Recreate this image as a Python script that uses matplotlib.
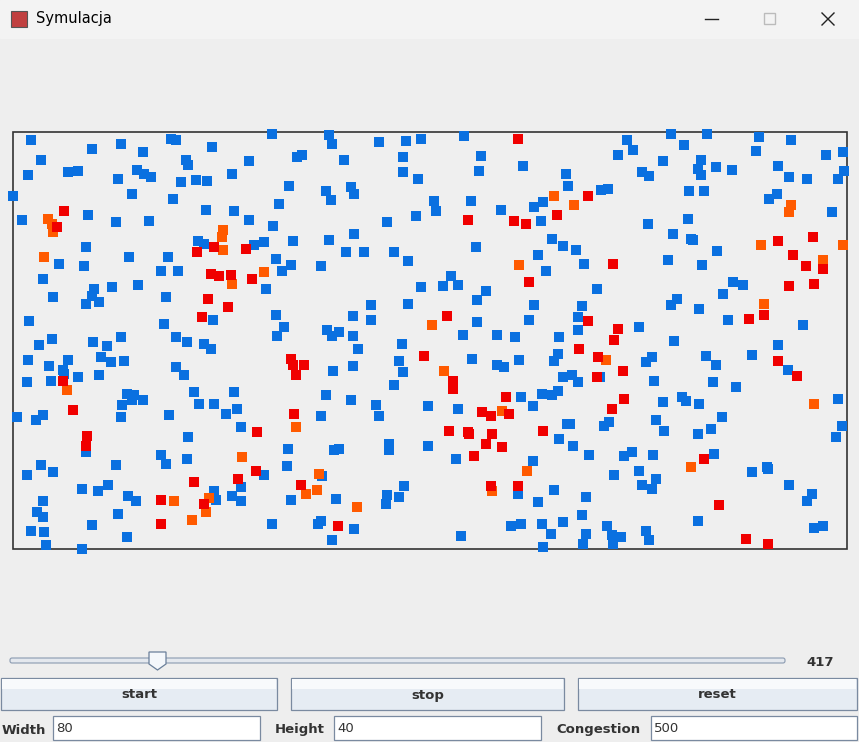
import matplotlib
matplotlib.use("Agg")
import matplotlib.pyplot as plt
from matplotlib.patches import Rectangle, FancyBboxPatch, Polygon

# Agent screen positions (pixels in the simulation panel)
blue_x = [31,272,121,92,171,176,212,143,41,186,188,249,28,68,78,137,144,151,118,181,196,207,232,13,132,173,279,206,234,22,88,116,149,249,273,198,204,254,264,86,129,168,59,84,161,178,276,282,43,266,94,92,86,99,112,138,53,166,29,213,164,276,284,
          329,332,379,406,421,464,297,302,344,403,481,403,418,479,523,566,568,289,326,331,351,354,434,436,471,501,534,543,541,416,387,293,329,354,346,364,394,408,476,552,563,538,546,291,321,451,443,458,421,486,477,534,371,408,353,371,477,529,327,339,
          627,671,707,759,791,684,633,618,756,826,843,663,701,698,701,716,732,642,649,778,789,807,838,844,601,608,689,704,769,777,832,688,648,673,691,693,576,717,584,668,702,733,743,723,597,677,671,699,582,578,578,728,639,803,
          39,52,93,107,121,176,187,204,211,277,28,49,68,63,64,101,111,124,27,51,78,99,176,184,194,234,127,134,132,143,122,199,214,226,237,17,36,43,121,169,241,188,86,161,166,187,41,27,53,116,264,82,98,108,128,136,214,216,232,241,241,43,37,43,118,92,31,44,127,272,46,82,
          332,353,358,402,463,497,515,559,558,554,399,403,472,497,504,519,333,353,394,563,326,351,376,379,428,458,521,533,542,552,558,321,567,559,288,334,339,389,389,428,456,533,287,322,404,387,386,399,336,291,518,554,538,321,318,354,332,461,511,521,542,563,551,543,
          674,778,752,706,716,652,646,788,572,578,600,654,713,736,838,682,686,663,699,722,656,664,609,604,570,711,698,842,836,573,589,624,632,653,714,614,639,752,767,768,642,656,652,789,812,807,586,582,698,607,586,583,612,621,613,646,649,814,823]
blue_y = [140,134,144,149,139,140,147,152,160,160,165,161,175,172,171,170,174,177,179,182,180,181,174,196,194,199,204,210,211,220,215,222,221,220,226,241,244,245,242,247,257,257,264,266,271,271,259,271,279,289,289,296,304,302,287,285,297,297,321,320,324,315,327,
          135,144,142,141,139,136,157,155,160,157,156,172,179,171,166,174,186,186,191,200,187,194,201,211,201,210,207,202,221,216,222,241,240,234,252,252,252,261,247,239,246,255,271,265,266,276,286,285,287,291,300,305,305,304,316,320,322,320,330,332,
          140,134,134,137,140,145,150,155,151,155,152,161,160,169,175,167,170,172,176,166,177,179,179,171,190,189,191,191,199,194,212,219,224,234,239,240,250,251,264,260,265,282,285,294,289,299,305,309,306,317,330,320,327,325,
          345,339,342,346,337,337,342,344,349,336,360,366,360,370,374,357,362,361,382,381,377,375,367,375,392,392,394,395,400,400,405,404,404,414,409,417,420,415,417,415,427,437,452,455,464,459,465,475,472,465,475,489,491,485,496,501,491,500,496,487,501,501,512,517,514,525,531,532,537,524,545,549,
          336,336,349,344,335,335,337,337,354,361,361,372,359,365,367,360,371,366,385,377,395,400,405,416,406,409,397,406,394,395,391,416,424,439,449,450,449,444,450,446,459,461,466,476,486,495,504,497,499,500,494,490,502,521,524,529,540,536,526,524,524,522,534,547,
          341,345,355,356,365,357,362,370,375,382,377,381,382,387,399,397,401,402,404,417,420,431,422,426,424,429,434,426,437,446,455,456,452,455,454,475,471,472,467,469,485,479,489,485,494,501,497,515,521,526,534,544,535,537,544,531,540,528,526]
red_x = [64,57,197,214,246,211,219,231,252,208,228,202,
         518,468,514,526,557,529,447,
         588,613,778,813,793,806,823,789,814,749,764,588,618,614,
         63,73,87,86,257,194,238,256,161,204,161,
         291,293,304,296,424,453,453,506,482,491,509,294,449,468,469,492,486,502,474,543,301,491,518,338,
         579,598,623,597,778,797,624,612,704,719,746,768]
red_y = [211,227,252,247,249,274,276,275,279,299,307,317,
         139,220,221,224,215,282,316,
         196,264,241,237,255,266,269,286,284,319,315,321,329,340,
         381,410,436,446,432,482,479,471,500,504,524,
         359,365,365,375,356,381,389,397,412,416,414,414,431,432,434,434,444,447,456,431,485,486,486,526,
         349,357,371,377,361,376,399,409,459,505,539,544]
orange_x = [48,52,53,223,222,223,44,264,232,
            554,519,432,
            574,791,789,761,843,823,764,
            67,242,174,206,192,209,
            444,502,296,319,306,317,492,527,357,
            606,814,691]
orange_y = [219,224,232,230,237,250,257,272,284,
            196,265,325,
            205,205,212,245,245,260,304,
            390,457,501,512,520,498,
            371,411,427,474,494,490,491,471,507,
            360,404,467]

BLUE, RED, ORANGE = "#0a70e0", "#f00000", "#ff5a00"
BG = "#eeeeee"

fig = plt.figure(figsize=(8.59, 7.42), dpi=100, facecolor=BG)
ax = fig.add_axes([0, 0, 1, 1])
ax.set_xlim(0, 859)
ax.set_ylim(742, 0)
ax.axis("off")

# title bar
ax.add_patch(Rectangle((0, 0), 859, 38, color="#f3f3f3", zorder=0))
ax.text(36, 19, "Symulacja", fontsize=10.5, va="center", ha="left", family="DejaVu Sans")
ax.add_patch(Rectangle((11, 11), 16, 16, facecolor="#c04040", edgecolor="#555555", lw=0.8))
ax.plot([705, 718], [19, 19], color="#222222", lw=1)
ax.add_patch(Rectangle((764, 13), 11, 11, facecolor="none", edgecolor="#bbbbbb", lw=1))
ax.plot([822, 834], [13, 25], color="#222222", lw=1)
ax.plot([822, 834], [25, 13], color="#222222", lw=1)

# panel
ax.add_patch(Rectangle((13, 132), 834, 417, facecolor="#efefef", edgecolor="#333333", lw=1.2, zorder=1))
ms = 52
ax.scatter(blue_x, blue_y, s=ms, marker="s", c=BLUE, linewidths=0, zorder=3)
ax.scatter(orange_x, orange_y, s=ms, marker="s", c=ORANGE, linewidths=0, zorder=4)
ax.scatter(red_x, red_y, s=ms, marker="s", c=RED, linewidths=0, zorder=5)

# slider
ax.add_patch(FancyBboxPatch((10, 658), 775, 5, boxstyle="round,pad=0,rounding_size=2",
                            facecolor="#e4e8ee", edgecolor="#8a9ab0", lw=0.8))
ax.add_patch(Polygon([(149, 652), (166, 652), (166, 664), (157.5, 670), (149, 664)],
                     closed=True, facecolor="#f4f7fb", edgecolor="#6a7f9a", lw=0.9))
ax.text(820, 662, "417", fontsize=9.5, fontweight="bold", ha="center", va="center", color="#333333")

# buttons
for (x0, x1, lab) in [(1, 277, "start"), (291, 564, "stop"), (578, 857, "reset")]:
    ax.add_patch(Rectangle((x0, 678), x1 - x0, 32, facecolor="#e6ecf3", edgecolor="#7a8aa0", lw=0.9))
    ax.add_patch(Rectangle((x0 + 1, 679), x1 - x0 - 2, 10, facecolor="#f8fafc", edgecolor="none"))
    ax.text((x0 + x1) / 2, 695, lab, fontsize=9.5, fontweight="bold", ha="center", va="center", color="#333333")

# fields
for (lx, lab, bx0, bx1, val) in [(2, "Width", 53, 260, "80"), (275, "Height", 334, 541, "40"),
                                 (556, "Congestion", 651, 857, "500")]:
    ax.text(lx, 730, lab, fontsize=9.5, fontweight="bold", ha="left", va="center", color="#333333")
    ax.add_patch(Rectangle((bx0, 716), bx1 - bx0, 24, facecolor="white", edgecolor="#7a8aa0", lw=0.9))
    ax.text(bx0 + 3, 729, val, fontsize=9.5, ha="left", va="center", color="#333333")

fig.savefig("out.png", dpi=100, facecolor=BG)
